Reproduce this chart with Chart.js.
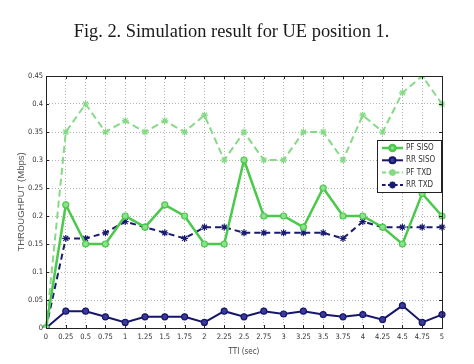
<!DOCTYPE html>
<html><head><meta charset="utf-8">
<script src="https://cdn.jsdelivr.net/npm/chart.js@4/dist/chart.umd.min.js"></script>
<style>html,body{margin:0;padding:0;background:#fff;}#wrap{width:474px;height:364px;position:relative}</style>
</head><body><div id="wrap"><canvas id="c" width="474" height="364"></canvas></div>
<script>
const titleText = 'Fig. 2. Simulation result for UE position 1.';
const xTitle = 'TTI (sec)';
const yTitle = 'THROUGHPUT (Mbps)';
const ttiLabels = ['0','0.25','0.5','0.75','1','1.25','1.5','1.75','2','2.25','2.5','2.75','3','3.25','3.5','3.75','4','4.25','4.5','4.75','5'];
const yTickLabels = ['0','0.05','0.1','0.15','0.2','0.25','0.3','0.35','0.4','0.45'];
const seriesNames = ['PF SISO','RR SISO','PF TXD','RR TXD'];
const pfSiso = [0,0.22,0.15,0.15,0.20,0.18,0.22,0.20,0.15,0.15,0.30,0.20,0.20,0.18,0.25,0.20,0.20,0.18,0.15,0.24,0.20];
const rrSiso = [0,0.03,0.03,0.02,0.01,0.02,0.02,0.02,0.01,0.03,0.02,0.03,0.025,0.03,0.024,0.02,0.024,0.015,0.04,0.01,0.024];
const pfTxd  = [0,0.35,0.40,0.35,0.37,0.35,0.37,0.35,0.38,0.30,0.35,0.30,0.30,0.35,0.35,0.30,0.38,0.35,0.42,0.45,0.40];
const rrTxd  = [0,0.16,0.16,0.17,0.19,0.18,0.17,0.16,0.18,0.18,0.17,0.17,0.17,0.17,0.17,0.16,0.19,0.18,0.18,0.18,0.18];

const narrow = '"Liberation Sans Narrow","DejaVu Sans Condensed",sans-serif';

const styles = [
  {line:'#4cc84c', fill:'#8ae38a', dash:[], width:2.5, ps:'circle', r:3},
  {line:'#16166b', fill:'#3a3a9a', dash:[], width:2, ps:'circle', r:3},
  {line:'#86d986', fill:'#a6e6a6', dash:[7,4], width:2, ps:'star', r:3.5},
  {line:'#1a1a70', fill:'#1a1a70', dash:[6,4], width:2, ps:'star', r:3.5}
];
const seriesData = [pfSiso, rrSiso, pfTxd, rrTxd];

const datasets = seriesNames.map((n,i)=>({
  label:n, data:seriesData[i],
  borderColor:styles[i].line, backgroundColor:styles[i].fill,
  borderDash:styles[i].dash, borderWidth:styles[i].width,
  pointStyle:styles[i].ps, pointRadius:styles[i].r,
  pointBorderColor:styles[i].line, pointBackgroundColor:styles[i].fill,
  pointBorderWidth:1.2, tension:0, fill:false
}));

const framePlugin = {
  id:'frame',
  afterDraw(chart){
    const ctx = chart.ctx;
    ctx.save();
    ctx.fillStyle = '#1a1a1a';
    ctx.font = '18.4px "Liberation Serif","Times New Roman",serif';
    ctx.textAlign = 'center'; ctx.textBaseline = 'middle';
    ctx.fillText(titleText, 231.5, 32);
    ctx.restore();
  },
  afterDatasetsDraw(chart){
    const {ctx, chartArea:a, scales} = chart;
    ctx.save();
    ctx.strokeStyle = '#222'; ctx.lineWidth = 1; ctx.setLineDash([]);
    ctx.strokeRect(a.left+0.5, a.top+0.5, a.right-a.left, a.bottom-a.top);
    ctx.beginPath();
    const xs = scales.x, ys = scales.y;
    for (let i=0;i<xs.ticks.length;i++){
      const px = Math.round(xs.getPixelForTick(i))+0.5;
      ctx.moveTo(px,a.bottom); ctx.lineTo(px,a.bottom-3);
      ctx.moveTo(px,a.top); ctx.lineTo(px,a.top+3);
    }
    for (let i=0;i<ys.ticks.length;i++){
      const py = Math.round(ys.getPixelForTick(i))+0.5;
      ctx.moveTo(a.left,py); ctx.lineTo(a.left+3,py);
      ctx.moveTo(a.right,py); ctx.lineTo(a.right-3,py);
    }
    ctx.stroke();
    const bx = a.right-65, by = a.top+64, bw = 64, bh = 52;
    ctx.fillStyle = '#fff';
    ctx.fillRect(bx,by,bw,bh);
    ctx.strokeStyle = '#222';
    ctx.strokeRect(bx+0.5,by+0.5,bw,bh);
    ctx.font = '8px ' + narrow;
    ctx.textBaseline = 'middle';
    chart.data.datasets.forEach((ds,i)=>{
      const y = by + 8 + i*12.3;
      const s = styles[i];
      ctx.strokeStyle = s.line; ctx.lineWidth = s.width; ctx.setLineDash(s.dash.map(v=>v*0.6));
      ctx.beginPath(); ctx.moveTo(bx+5,y); ctx.lineTo(bx+26,y); ctx.stroke();
      ctx.setLineDash([]);
      ctx.fillStyle = s.fill; ctx.strokeStyle = s.line;
      Chart.helpers.drawPoint(ctx,{pointStyle:s.ps,radius:s.r,rotation:0,borderWidth:1.2},bx+15.5,y);
      ctx.fillStyle = '#333';
      ctx.fillText(ds.label, bx+29, y);
    });
    ctx.restore();
  }
};

new Chart(document.getElementById('c'), {
  type:'line',
  data:{labels:ttiLabels, datasets},
  options:{
    responsive:false, animation:false, devicePixelRatio:1,
    layout:{padding:{left:12,right:32,top:76,bottom:0}},
    plugins:{
      legend:{display:false}, tooltip:{enabled:false}, title:{display:false}
    },
    scales:{
      x:{type:'category', offset:false,
        grid:{color:'#b5b5b5', drawTicks:false, offset:false, lineWidth:1},
        border:{display:false, dash:[1,2]},
        ticks:{color:'#333', font:{family:narrow, size:7.5}, padding:5, maxRotation:0, autoSkip:false},
        title:{display:true, text:xTitle, color:'#444', font:{family:narrow,size:8}, padding:{top:0,bottom:7}},
        afterFit(s){ s.height = 36; }
      },
      y:{type:'linear', min:0, max:0.45,
        grid:{color:'#b5b5b5', drawTicks:false, lineWidth:1},
        border:{display:false, dash:[1,2]},
        ticks:{stepSize:0.05, color:'#333', font:{family:narrow,size:7.5}, padding:3,
          callback:(v,i)=>yTickLabels[i]},
        title:{display:true, text:yTitle, color:'#555', font:{family:'"Liberation Sans",Arial,sans-serif',size:9.5}, padding:{top:4,bottom:0}},
        afterFit(s){ s.width = 34; }
      }
    }
  },
  plugins:[framePlugin]
});
</script></body></html>
